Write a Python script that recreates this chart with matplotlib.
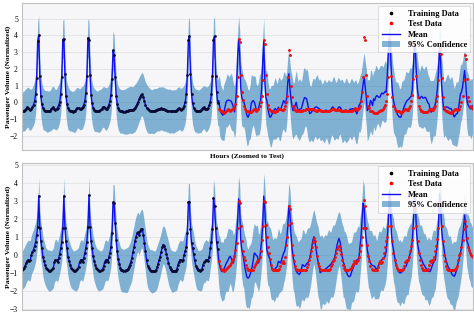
import numpy as np
import matplotlib
matplotlib.use("Agg")
import matplotlib.pyplot as plt
from matplotlib.lines import Line2D
from matplotlib.patches import Patch

plt.rcParams['font.family'] = ['Liberation Serif', 'DejaVu Serif']

# hourly series, one row per day (18 days); first `split` hours are training
split = 188

top_obs_days = [
    [-0.55, -0.55, -0.52, -0.45, -0.38, -0.30, -0.32, -0.42, -0.45, -0.40, -0.30, -0.15, 0.05, 0.50, 1.45, 3.65, 4.00, 1.55, 0.40, -0.10, -0.35, -0.45, -0.50, -0.52],
    [-0.55, -0.55, -0.53, -0.50, -0.42, -0.33, -0.30, -0.38, -0.45, -0.42, -0.32, -0.18, 0.02, 0.50, 1.50, 3.75, 3.80, 1.70, 0.40, -0.10, -0.35, -0.45, -0.50, -0.52],
    [-0.55, -0.56, -0.55, -0.50, -0.40, -0.32, -0.35, -0.42, -0.40, -0.35, -0.30, -0.15, 0.05, 0.55, 1.55, 3.85, 3.70, 1.65, 0.45, -0.05, -0.32, -0.45, -0.50, -0.53],
    [-0.55, -0.55, -0.52, -0.48, -0.40, -0.30, -0.28, -0.35, -0.40, -0.38, -0.30, -0.15, 0.05, 0.45, 1.40, 3.10, 2.85, 1.50, 0.40, -0.10, -0.35, -0.48, -0.53, -0.55],
    [-0.55, -0.56, -0.56, -0.55, -0.53, -0.50, -0.48, -0.45, -0.45, -0.47, -0.45, -0.40, -0.33, -0.25, -0.12, 0.02, 0.18, 0.32, 0.45, 0.48, 0.30, 0.05, -0.18, -0.32],
    [-0.42, -0.48, -0.52, -0.54, -0.55, -0.55, -0.53, -0.50, -0.47, -0.44, -0.42, -0.40, -0.38, -0.37, -0.38, -0.40, -0.42, -0.45, -0.48, -0.50, -0.52, -0.53, -0.54, -0.55],
    [-0.55, -0.55, -0.53, -0.50, -0.45, -0.40, -0.35, -0.40, -0.45, -0.42, -0.35, -0.20, 0.00, 0.50, 1.60, 3.70, 3.95, 1.70, 0.50, -0.05, -0.32, -0.45, -0.50, -0.53],
    [-0.55, -0.55, -0.52, -0.48, -0.40, -0.32, -0.30, -0.38, -0.42, -0.40, -0.32, -0.18, 0.02, 0.50, 1.55, 3.75, 3.95, 1.55, 0.60, -0.05, -0.40, -0.48, -0.50, -0.55],
    [-0.60, -0.62, -0.58, -0.52, -0.48, -0.42, -0.45, -0.50, -0.48, -0.42, -0.40, -0.30, -0.10, 0.40, 1.50, 3.80, 3.60, 1.60, 0.60, 0.15, -0.20, -0.40, -0.50, -0.55],
    [-0.55, -0.58, -0.60, -0.58, -0.52, -0.45, -0.40, -0.42, -0.50, -0.45, -0.40, -0.25, 0.00, 0.40, 1.30, 3.70, 3.50, 1.60, 0.50, -0.15, -0.40, -0.48, -0.52, -0.55],
    [-0.55, -0.58, -0.58, -0.55, -0.50, -0.42, -0.38, -0.42, -0.48, -0.45, -0.38, -0.25, 0.00, 0.40, 1.50, 3.15, 2.85, 1.00, 0.30, -0.20, -0.40, -0.48, -0.50, -0.50],
    [-0.48, -0.50, -0.52, -0.52, -0.50, -0.48, -0.45, -0.42, -0.40, -0.38, -0.40, -0.42, -0.40, -0.38, -0.40, -0.45, -0.48, -0.50, -0.50, -0.48, -0.45, -0.48, -0.50, -0.52],
    [-0.52, -0.53, -0.55, -0.55, -0.53, -0.50, -0.48, -0.45, -0.42, -0.40, -0.42, -0.45, -0.47, -0.45, -0.42, -0.45, -0.48, -0.50, -0.50, -0.52, -0.50, -0.48, -0.50, -0.52],
    [-0.52, -0.55, -0.55, -0.52, -0.48, -0.40, -0.35, -0.40, -0.45, -0.42, -0.35, -0.20, 0.10, 0.60, 1.50, 3.90, 3.70, 1.60, 0.35, -0.20, -0.35, -0.50, -0.55, -0.60],
    [-0.62, -0.65, -0.65, -0.62, -0.58, -0.55, -0.50, -0.48, -0.45, -0.40, -0.30, -0.15, 0.10, 0.50, 1.50, 3.80, 3.60, 1.55, 0.30, -0.20, -0.40, -0.50, -0.55, -0.55],
    [-0.55, -0.60, -0.62, -0.60, -0.55, -0.48, -0.40, -0.42, -0.48, -0.45, -0.35, -0.20, 0.10, 0.45, 1.40, 3.60, 3.40, 1.55, 0.30, -0.25, -0.40, -0.50, -0.55, -0.58],
    [-0.58, -0.60, -0.60, -0.58, -0.52, -0.45, -0.38, -0.42, -0.48, -0.45, -0.35, -0.20, 0.05, 0.40, 1.30, 3.20, 2.90, 1.45, 0.30, -0.30, -0.45, -0.52, -0.55, -0.58],
    [-0.60, -0.62, -0.62, -0.60, -0.55, -0.48, -0.40, -0.42, -0.48, -0.45, -0.38, -0.25, 0.00, 0.35, 1.30, 2.80, 2.60, 1.40, 0.30, 0.10, -0.20, -0.30, -0.35, -0.40],
]

# predicted mean over the test hours (index split .. end)
top_mean_test = [
    0.10, -0.30, -0.60, -0.70,
    -0.78, -0.60, -0.30, 0.00, 0.10, 0.12, 0.12, 0.10, 0.05, -0.10, -0.30, -0.58, -0.20, 0.80, 2.60, 3.75, 2.90, 0.90, 0.30, 0.10, 0.00, -0.20, -0.50, -0.80,
    -0.90, -0.75, -0.60, -0.10, 0.05, 0.10, 0.00, -0.20, -0.50, -0.45, -0.40, -0.10, 0.10, 0.80, 2.40, 3.65, 1.30, 0.30, 0.10, -0.40, -0.70, -0.90, -0.85, -0.70,
    -0.58, -0.45, -0.38, -0.45, -0.48, -0.30, -0.40, -0.48, -0.28, -0.10, 0.10, 0.00, -0.10, 0.30, 1.20, 1.70, 0.90, 0.20, -0.20, -0.50, -0.45, -0.20, 0.00, -0.30,
    -0.48, -0.45, -0.40, -0.38, -0.15, 0.10, 0.28, 0.25, 0.20, -0.10, -0.45, -0.68, -0.65, -0.55, -0.48, -0.40, -0.32, -0.28, -0.30, -0.35, -0.38, -0.45, -0.52, -0.58,
    -0.58, -0.52, -0.48, -0.48, -0.52, -0.58, -0.58, -0.45, -0.35, -0.28, -0.35, -0.45, -0.48, -0.45, -0.35, -0.28, -0.30, -0.40, -0.52, -0.58, -0.55, -0.50, -0.48, -0.52,
    -0.55, -0.45, -0.40, -0.42, -0.38, -0.40, -0.45, -0.55, -0.70, -0.50, -0.20, -0.10, 0.10, 0.60, 1.10, 1.50, 0.90, 0.30, -0.50, -0.40, -0.30, 0.10, 0.00, -0.20,
    0.20, 0.10, 0.30, 0.40, 0.35, 0.30, 0.30, 0.45, 0.55, 0.50, 0.55, 0.65, 0.60, 1.50, 2.80, 3.75, 3.40, 1.60, 0.60, 0.10, -0.20, -0.40, -0.60, -0.75,
    -0.85, -0.90, -0.90, -0.70, -0.50, -0.30, -0.15, 0.00, 0.10, 0.15, 0.20, 0.30, 0.35, 0.80, 2.00, 3.60, 3.00, 1.50, 0.70, 0.30, 0.20, 0.30, 0.35, 0.25,
    0.25, 0.30, 0.25, 0.10, -0.05, -0.10, -0.45, -0.60, -0.50, -0.35, -0.28, -0.10, 0.30, 0.80, 1.80, 3.30, 2.50, 1.00, 0.20, -0.45, -0.35, -0.30, -0.28, -0.30,
    -0.35, -0.40, -0.38, -0.50, -0.70, -0.88, -0.80, -0.70, -0.68, -0.40, 0.00, 0.50, 0.60, 0.90, 1.40, 1.90, 1.20, 0.20, -0.10, -0.25, -0.35, -0.40, -0.30, -0.20,
]

# half width of the 95% band
top_hw_days = [
    [1.15, 1.18, 1.20, 1.22, 1.20, 1.18, 1.22, 1.25, 1.22, 1.20, 1.18, 1.20, 1.22, 1.20, 1.18, 1.15, 1.15, 1.18, 1.20, 1.22, 1.25, 1.22, 1.20, 1.22],
    [1.25, 1.22, 1.20, 1.22, 1.25, 1.28, 1.25, 1.22, 1.20, 1.22, 1.25, 1.22, 1.20, 1.18, 1.18, 1.15, 1.15, 1.18, 1.22, 1.25, 1.28, 1.25, 1.22, 1.20],
    [1.20, 1.22, 1.25, 1.28, 1.25, 1.22, 1.20, 1.22, 1.25, 1.28, 1.25, 1.22, 1.20, 1.18, 1.15, 1.15, 1.15, 1.18, 1.20, 1.22, 1.25, 1.28, 1.25, 1.22],
    [1.22, 1.25, 1.28, 1.25, 1.22, 1.20, 1.22, 1.25, 1.28, 1.25, 1.22, 1.20, 1.20, 1.18, 1.15, 1.15, 1.18, 1.20, 1.22, 1.25, 1.28, 1.30, 1.32, 1.30],
    [1.30, 1.32, 1.35, 1.35, 1.38, 1.40, 1.38, 1.40, 1.42, 1.40, 1.38, 1.40, 1.42, 1.40, 1.38, 1.35, 1.32, 1.30, 1.28, 1.30, 1.32, 1.35, 1.38, 1.40],
    [1.40, 1.38, 1.35, 1.32, 1.30, 1.32, 1.35, 1.32, 1.30, 1.28, 1.30, 1.32, 1.30, 1.28, 1.30, 1.32, 1.30, 1.28, 1.30, 1.28, 1.30, 1.32, 1.30, 1.28],
    [1.28, 1.30, 1.28, 1.25, 1.28, 1.30, 1.28, 1.25, 1.28, 1.30, 1.28, 1.25, 1.22, 1.20, 1.18, 1.15, 1.15, 1.18, 1.22, 1.25, 1.28, 1.30, 1.28, 1.30],
    [1.30, 1.28, 1.30, 1.32, 1.30, 1.28, 1.30, 1.32, 1.35, 1.32, 1.30, 1.28, 1.25, 1.22, 1.20, 1.18, 1.18, 1.20, 1.25, 1.35, 1.50, 1.70, 1.60, 1.55],
    [1.50, 1.70, 1.55, 1.45, 1.60, 1.50, 1.40, 1.55, 1.70, 1.60, 1.45, 1.55, 1.65, 1.55, 1.45, 1.40, 1.45, 1.55, 1.70, 1.60, 1.45, 1.55, 1.70, 1.80],
    [1.65, 1.50, 1.60, 1.75, 1.55, 1.45, 1.60, 1.70, 1.55, 1.45, 1.60, 1.75, 1.60, 1.50, 1.45, 1.40, 1.45, 1.60, 1.75, 1.65, 1.55, 1.70, 1.85, 1.70],
    [1.60, 1.75, 1.85, 1.70, 1.60, 1.75, 1.90, 1.80, 1.65, 1.55, 1.70, 1.80, 1.65, 1.55, 1.50, 1.45, 1.50, 1.65, 1.80, 1.70, 1.60, 1.75, 1.90, 1.80],
    [1.70, 1.85, 1.75, 1.60, 1.75, 1.90, 1.80, 1.65, 1.80, 1.95, 1.85, 1.70, 1.60, 1.75, 1.90, 1.80, 1.70, 1.85, 1.95, 1.80, 1.70, 1.85, 1.75, 1.65],
    [1.80, 1.90, 1.75, 1.65, 1.80, 1.95, 1.85, 1.70, 1.60, 1.75, 1.90, 1.80, 1.65, 1.75, 1.85, 1.70, 1.60, 1.75, 1.90, 1.80, 1.70, 1.85, 1.95, 1.80],
    [1.70, 1.60, 1.75, 1.85, 1.70, 1.60, 1.75, 1.90, 1.80, 1.65, 1.55, 1.70, 1.65, 1.55, 1.50, 1.45, 1.55, 1.70, 1.85, 1.75, 1.65, 1.80, 1.90, 1.75],
    [1.65, 1.80, 1.90, 1.75, 1.60, 1.70, 1.85, 1.75, 1.65, 1.60, 1.75, 1.85, 1.70, 1.60, 1.50, 1.45, 1.50, 1.65, 1.80, 1.90, 1.75, 1.65, 1.80, 1.95],
    [1.85, 1.70, 1.80, 1.95, 1.80, 1.65, 1.75, 1.85, 1.70, 1.60, 1.70, 1.80, 1.65, 1.55, 1.50, 1.45, 1.55, 1.70, 1.85, 1.75, 1.65, 1.80, 1.90, 1.80],
    [1.70, 1.80, 1.95, 1.85, 1.70, 1.60, 1.75, 1.90, 1.80, 1.65, 1.75, 1.85, 1.70, 1.60, 1.50, 1.45, 1.50, 1.65, 1.80, 1.70, 1.60, 1.75, 1.90, 2.00],
    [1.85, 1.75, 1.90, 2.00, 1.85, 1.70, 1.80, 1.95, 1.85, 1.70, 1.80, 1.75, 1.65, 1.55, 1.50, 1.45, 1.55, 1.70, 1.85, 1.75, 1.65, 1.80, 1.70, 1.60],
]

bot_obs_days = [
    [-0.85, -0.80, -0.72, -0.60, -0.46, -0.35, -0.28, -0.35, -0.30, 0.00, 0.15, 0.28, 0.50, 0.70, 1.10, 1.55, 3.26, 1.50, 0.75, 0.37, -0.10, -0.35, -0.55, -0.72],
    [-0.80, -0.86, -0.88, -0.88, -0.87, -0.82, -0.72, -0.40, -0.28, -0.30, -0.42, -0.20, 0.05, 0.35, 0.70, 1.50, 3.26, 1.50, 0.75, 0.37, -0.10, -0.35, -0.55, -0.72],
    [-0.80, -0.86, -0.88, -0.88, -0.86, -0.80, -0.68, -0.42, -0.30, -0.28, -0.38, -0.18, 0.08, 0.38, 0.72, 1.55, 3.30, 1.55, 0.78, 0.37, -0.08, -0.35, -0.55, -0.72],
    [-0.80, -0.86, -0.88, -0.88, -0.86, -0.80, -0.65, -0.40, -0.30, -0.32, -0.38, -0.15, 0.10, 0.40, 1.20, 2.90, 2.85, 1.77, 0.84, 0.19, -0.25, -0.50, -0.75, -0.85],
    [-0.87, -0.88, -0.88, -0.87, -0.86, -0.82, -0.70, -0.55, -0.40, -0.19, 0.15, 0.40, 0.75, 1.00, 1.20, 1.25, 1.10, 1.30, 1.43, 1.43, 1.10, 0.65, 0.20, -0.30],
    [-0.60, -0.75, -0.85, -0.90, -0.93, -0.93, -0.93, -0.92, -0.85, -0.70, -0.50, -0.30, -0.10, 0.15, 0.40, 0.56, 0.48, 0.30, 0.05, -0.20, -0.45, -0.68, -0.82, -0.92],
    [-0.93, -0.93, -0.92, -0.88, -0.80, -0.55, -0.40, -0.28, -0.32, -0.37, -0.28, 0.00, 0.20, 0.45, 1.20, 2.92, 2.95, 1.40, 0.65, 0.35, 0.05, -0.30, -0.60, -0.75],
    [-0.85, -0.87, -0.88, -0.87, -0.80, -0.55, -0.42, -0.37, -0.28, -0.32, -0.37, -0.10, 0.37, 0.70, 1.40, 3.15, 2.70, 1.50, 0.70, 0.30, -0.35, -0.65, -0.82, -0.87],
    [-0.87, -0.88, -0.85, -0.80, -0.75, -0.70, -0.65, -0.55, -0.45, -0.35, -0.22, -0.05, 0.25, 0.65, 1.50, 3.00, 2.87, 1.57, 0.74, 0.20, -0.10, -0.30, -0.55, -0.75],
    [-0.83, -0.85, -0.86, -0.86, -0.85, -0.83, -0.70, -0.55, -0.45, -0.37, -0.28, -0.10, 0.20, 0.80, 1.57, 3.00, 2.90, 1.67, 1.00, 0.40, 0.10, -0.25, -0.55, -0.80],
    [-0.83, -0.85, -0.86, -0.86, -0.85, -0.83, -0.80, -0.60, -0.45, -0.37, -0.46, -0.10, 0.55, 1.00, 1.67, 2.70, 2.55, 1.75, 0.55, 0.00, -0.37, -0.65, -0.80, -0.85],
    [-0.85, -0.86, -0.86, -0.86, -0.85, -0.85, -0.84, -0.83, -0.70, -0.50, -0.28, -0.05, 0.19, 0.45, 0.70, 0.90, 0.75, 0.45, -0.09, -0.46, -0.65, -0.80, -0.84, -0.86],
    [-0.86, -0.87, -0.87, -0.86, -0.85, -0.84, -0.80, -0.65, -0.50, -0.35, -0.28, -0.10, 0.10, 0.30, 0.45, 0.50, 0.28, 0.05, -0.28, -0.55, -0.75, -0.83, -0.85, -0.86],
    [-0.83, -0.80, -0.75, -0.65, -0.50, -0.37, -0.42, -0.46, -0.35, -0.28, -0.10, 0.20, 0.55, 1.00, 1.50, 3.05, 2.70, 1.50, 0.55, -0.09, -0.37, -0.60, -0.80, -0.85],
    [-0.85, -0.86, -0.86, -0.84, -0.70, -0.45, -0.37, -0.46, -0.40, -0.20, 0.09, 0.40, 0.75, 1.00, 1.60, 3.10, 2.85, 1.60, 0.74, 0.10, -0.28, -0.55, -0.75, -0.83],
    [-0.85, -0.86, -0.86, -0.85, -0.80, -0.60, -0.40, -0.37, -0.28, -0.30, -0.10, 0.20, 0.50, 0.80, 1.50, 2.80, 2.60, 1.60, 0.74, 0.10, -0.28, -0.55, -0.75, -0.83],
    [-0.85, -0.86, -0.86, -0.85, -0.80, -0.55, -0.37, -0.40, -0.30, -0.28, -0.10, 0.20, 0.50, 0.85, 1.50, 2.95, 2.70, 1.57, 0.74, 0.00, -0.37, -0.60, -0.78, -0.85],
    [-0.85, -0.86, -0.86, -0.85, -0.84, -0.83, -0.80, -0.75, -0.65, -0.28, 0.00, 0.09, 0.40, 0.83, 1.40, 1.85, 1.57, 0.90, 0.45, 0.25, 0.10, 0.00, -0.05, -0.10],
]

bot_mean_test = [
    -0.30, -0.60, -0.85, -0.93,
    -0.93, -0.80, -0.65, -0.50, -0.40, -0.28, -0.15, -0.09, -0.20, -0.35, -0.46, -0.20, 0.30, 0.90, 1.80, 3.10, 2.60, 0.83, 0.30, 0.00, -0.28, -0.70, -1.00, -1.25,
    -1.30, -1.25, -1.10, -0.85, -0.65, -0.30, 0.09, 0.05, -0.05, -0.09, -0.46, -0.30, 0.20, 0.80, 1.60, 3.25, 2.60, 1.20, 0.28, 0.05, -0.10, -0.28, -0.55, -0.75,
    -0.83, -0.83, -0.78, -0.70, -0.65, -0.37, -0.40, -0.46, -0.30, -0.10, 0.09, 0.20, 0.50, 0.90, 1.60, 2.70, 2.30, 1.20, 0.40, -0.10, -0.40, -0.70, -0.90, -1.00,
    -1.05, -1.10, -1.00, -0.80, -0.55, -0.60, -0.65, -0.60, -0.50, -0.45, -0.37, -0.20, 0.10, 0.45, 0.80, 1.00, 0.70, 0.30, -0.09, -0.40, -0.70, -1.00, -0.95, -0.85,
    -0.90, -0.85, -0.80, -0.75, -0.70, -0.65, -0.60, -0.55, -0.45, -0.35, -0.28, -0.10, 0.20, 0.50, 0.75, 0.90, 0.70, 0.30, -0.10, -0.40, -0.55, -0.75, -0.95, -1.10,
    -1.20, -1.22, -1.15, -0.95, -0.80, -0.65, -0.50, -0.37, -0.30, -0.25, -0.19, 0.46, 1.00, 1.90, 2.85, 2.60, 1.40, 0.80, 0.28, -0.05, -0.30, -0.46, -0.55, -0.60,
    -0.62, -0.65, -0.75, -0.83, -0.70, -0.55, -0.40, -0.35, -0.28, -0.20, -0.15, -0.09, 0.20, 0.80, 1.80, 3.50, 2.80, 1.20, 0.60, 0.28, -0.10, -0.40, -0.65, -0.85,
    -0.95, -1.00, -1.00, -0.95, -0.90, -0.83, -0.70, -0.65, -0.45, -0.37, -0.10, 0.10, 0.28, 0.80, 1.80, 3.25, 2.70, 1.30, 0.60, 0.28, 0.00, -0.15, -0.28, -0.45,
    -0.55, -0.65, -0.75, -0.83, -0.88, -0.93, -0.93, -0.80, -0.60, -0.46, -0.35, -0.28, 0.20, 0.65, 1.60, 3.40, 2.80, 1.40, 0.80, 0.46, 0.00, -0.25, -0.46, -0.65,
    -0.75, -0.83, -0.95, -1.10, -1.15, -1.20, -1.10, -0.90, -0.65, -0.40, -0.15, 0.09, 0.40, 0.90, 1.50, 2.20, 1.60, 0.80, 0.65, 0.40, 0.20, 0.00, -0.10, -0.18,
]

bot_hw_days = [
    [1.05, 1.08, 1.10, 1.12, 1.10, 1.08, 1.10, 1.12, 1.10, 1.08, 1.10, 1.12, 1.10, 1.08, 1.05, 1.02, 1.00, 1.02, 1.05, 1.08, 1.10, 1.12, 1.10, 1.08],
    [1.10, 1.12, 1.15, 1.12, 1.10, 1.08, 1.10, 1.12, 1.15, 1.12, 1.10, 1.08, 1.10, 1.08, 1.05, 1.02, 1.00, 1.02, 1.05, 1.08, 1.10, 1.12, 1.15, 1.12],
    [1.10, 1.08, 1.10, 1.12, 1.15, 1.12, 1.10, 1.08, 1.10, 1.12, 1.10, 1.08, 1.08, 1.05, 1.03, 1.02, 1.00, 1.02, 1.05, 1.08, 1.10, 1.12, 1.10, 1.12],
    [1.12, 1.15, 1.12, 1.10, 1.08, 1.10, 1.12, 1.15, 1.12, 1.10, 1.08, 1.10, 1.08, 1.05, 1.03, 1.02, 1.02, 1.05, 1.08, 1.10, 1.12, 1.15, 1.18, 1.20],
    [1.20, 1.18, 1.20, 1.22, 1.25, 1.22, 1.20, 1.18, 1.20, 1.22, 1.20, 1.18, 1.15, 1.12, 1.10, 1.10, 1.12, 1.10, 1.08, 1.08, 1.10, 1.12, 1.15, 1.18],
    [1.20, 1.18, 1.15, 1.18, 1.20, 1.18, 1.15, 1.12, 1.15, 1.18, 1.15, 1.12, 1.10, 1.08, 1.08, 1.05, 1.08, 1.10, 1.12, 1.15, 1.18, 1.15, 1.12, 1.15],
    [1.15, 1.12, 1.10, 1.12, 1.15, 1.12, 1.10, 1.08, 1.10, 1.12, 1.10, 1.08, 1.08, 1.05, 1.03, 1.02, 1.02, 1.05, 1.08, 1.10, 1.12, 1.10, 1.12, 1.15],
    [1.12, 1.10, 1.12, 1.15, 1.12, 1.10, 1.12, 1.15, 1.12, 1.10, 1.08, 1.10, 1.08, 1.05, 1.03, 1.02, 1.02, 1.05, 1.10, 1.20, 1.40, 1.60, 1.55, 1.65],
    [1.60, 1.70, 1.55, 1.50, 1.65, 1.75, 1.60, 1.50, 1.60, 1.70, 1.55, 1.45, 1.50, 1.40, 1.30, 1.25, 1.30, 1.45, 1.60, 1.70, 1.60, 1.75, 1.85, 1.70],
    [1.60, 1.75, 1.65, 1.55, 1.70, 1.80, 1.65, 1.55, 1.65, 1.75, 1.60, 1.50, 1.45, 1.40, 1.30, 1.25, 1.30, 1.45, 1.60, 1.75, 1.65, 1.80, 1.90, 1.75],
    [1.65, 1.80, 1.70, 1.60, 1.75, 1.85, 1.70, 1.60, 1.70, 1.80, 1.65, 1.55, 1.50, 1.45, 1.35, 1.30, 1.35, 1.50, 1.65, 1.80, 1.70, 1.85, 1.95, 1.85],
    [1.75, 1.90, 1.85, 1.75, 1.90, 2.00, 1.85, 1.75, 1.85, 1.95, 1.85, 1.75, 1.70, 1.60, 1.55, 1.50, 1.55, 1.65, 1.80, 1.95, 1.85, 2.00, 2.05, 1.90],
    [1.80, 1.95, 1.90, 1.80, 1.95, 2.05, 1.90, 1.80, 1.90, 2.00, 1.90, 1.80, 1.70, 1.60, 1.55, 1.50, 1.55, 1.65, 1.80, 1.95, 1.85, 2.00, 2.05, 1.90],
    [1.80, 1.90, 1.80, 1.70, 1.80, 1.90, 1.75, 1.65, 1.75, 1.85, 1.70, 1.60, 1.50, 1.40, 1.30, 1.25, 1.30, 1.45, 1.60, 1.75, 1.65, 1.80, 1.90, 1.75],
    [1.65, 1.80, 1.70, 1.60, 1.75, 1.85, 1.70, 1.60, 1.70, 1.80, 1.65, 1.55, 1.50, 1.40, 1.30, 1.25, 1.30, 1.45, 1.60, 1.75, 1.65, 1.80, 1.90, 1.80],
    [1.70, 1.85, 1.75, 1.65, 1.80, 1.90, 1.75, 1.65, 1.75, 1.85, 1.70, 1.60, 1.50, 1.40, 1.30, 1.25, 1.30, 1.45, 1.60, 1.75, 1.65, 1.80, 1.90, 1.80],
    [1.70, 1.85, 1.75, 1.65, 1.80, 1.90, 1.75, 1.65, 1.75, 1.85, 1.70, 1.60, 1.50, 1.40, 1.30, 1.25, 1.30, 1.45, 1.60, 1.75, 1.65, 1.80, 1.90, 1.80],
    [1.75, 1.90, 1.80, 1.70, 1.85, 1.95, 1.80, 1.70, 1.80, 1.85, 1.70, 1.60, 1.50, 1.40, 1.35, 1.30, 1.35, 1.45, 1.60, 1.70, 1.65, 1.75, 1.70, 1.65],
]

top_yticks = [-2, -1, 0, 1, 2, 3, 4, 5]
bot_yticks = [-3, -2, -1, 0, 1, 2, 3, 4, 5]

band_color = '#1f77b4'
line_color = '#1010ee'


def draw_panel(ax, obs_days, mean_test, hw_days, ylim, yticks, xlabel=True):
    obs = np.concatenate(obs_days)
    hw = np.concatenate(hw_days)
    mean = np.concatenate([obs[:split], mean_test])
    x = np.arange(len(obs))

    ax.set_facecolor('#f6f6f8')
    ax.fill_between(x, mean - hw, mean + hw, color=band_color, alpha=0.55, lw=0)
    ax.plot(x, mean, color=line_color, lw=1.0)
    ax.plot(x[:split], obs[:split], '.', color='#0a0a30', ms=1.9)
    ax.plot(x[split:], obs[split:], '.', color='#ee1111', ms=2.2)

    ax.set_xlim(0, len(obs) - 1)
    ax.set_ylim(*ylim)
    ax.set_xticks([])
    ax.set_yticks(yticks)
    ax.tick_params(axis='y', length=0, pad=3, labelsize=5.5)
    ax.grid(axis='y', color='#e2e2e6', lw=0.6)
    ax.set_axisbelow(True)
    for s in ax.spines.values():
        s.set_color('#c0c0c0')
        s.set_linewidth(0.8)

    ax.set_ylabel('Passenger Volume (Normalized)', fontsize=5.4, fontweight='bold')
    ax.yaxis.set_label_coords(-0.025, 0.5)
    if xlabel:
        ax.set_xlabel('Hours (Zoomed to Test)', fontsize=5.2, fontweight='bold', labelpad=2)

    handles = [
        Line2D([], [], color='k', marker='.', ls='', ms=3.2),
        Line2D([], [], color='r', marker='.', ls='', ms=3.2),
        Line2D([], [], color=line_color, lw=1.0),
        Patch(facecolor=band_color, alpha=0.55, lw=0),
    ]
    labels = ['Training Data', 'Test Data', 'Mean', '95% Confidence']
    leg = ax.legend(handles, labels, loc='upper right', prop=dict(size=6.0, weight='bold'),
                    handlelength=2.2, labelspacing=0.3, borderpad=0.4, handletextpad=0.9,
                    framealpha=0.85, fancybox=False, edgecolor='#d0d0d0',
                    bbox_to_anchor=(1.003, 1.005))
    leg.get_frame().set_linewidth(0.6)


fig = plt.figure(figsize=(4.74, 3.22), dpi=100)
ax1 = fig.add_axes([0.0464, 0.534, 0.9515, 0.457])
ax2 = fig.add_axes([0.0464, 0.036, 0.9515, 0.458])

draw_panel(ax1, top_obs_days, top_mean_test, top_hw_days, (-2.86, 5.94), top_yticks)
draw_panel(ax2, bot_obs_days, bot_mean_test, bot_hw_days, (-3.09, 5.09), bot_yticks, xlabel=False)

fig.savefig('out.png', dpi=100)
